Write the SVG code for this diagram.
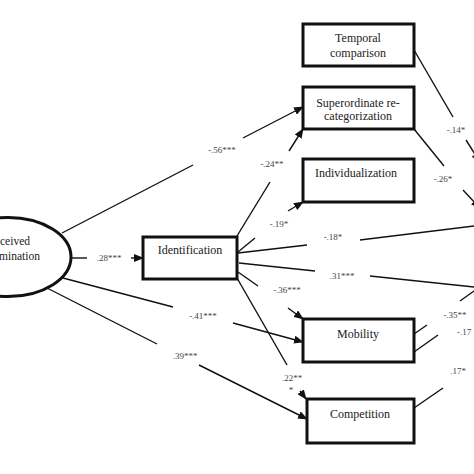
<svg xmlns="http://www.w3.org/2000/svg" width="474" height="474" viewBox="0 0 474 474">
<style>
.box{fill:#fff;stroke:#111;stroke-width:3}
.node{font-size:12px;fill:#222;text-anchor:middle}
.lbl{font-size:9px;fill:#444;text-anchor:middle}
.ln{stroke:#111;stroke-width:1.4;fill:none}
.arr{marker-end:url(#ah)}
</style>
<defs>
<marker id="ah" markerUnits="userSpaceOnUse" markerWidth="10" markerHeight="8" refX="9" refY="4" orient="auto">
<path d="M0,0 L10,4 L0,8 Z" fill="#111"/>
</marker>
</defs>
<rect width="474" height="474" fill="#fff"/>
<g id="connectors" font-family="'Liberation Serif', 'DejaVu Serif', serif">
<line class="ln" x1="62" y1="233" x2="193" y2="165"/><line class="ln arr" x1="243" y1="138" x2="303" y2="107"/>
<line class="ln" x1="71" y1="258" x2="87" y2="258"/><line class="ln arr" x1="131" y1="258" x2="143" y2="258"/>
<line class="ln" x1="63" y1="278" x2="173" y2="307"/><line class="ln arr" x1="233" y1="323" x2="303" y2="342"/>
<line class="ln" x1="47" y1="288" x2="157" y2="344"/><line class="ln arr" x1="199" y1="365" x2="307" y2="419"/>
<line class="ln" x1="237" y1="236" x2="270" y2="182"/><line class="ln arr" x1="289" y1="151" x2="303" y2="129"/>
<line class="ln" x1="238" y1="252" x2="255" y2="238"/><line class="ln arr" x1="288" y1="211" x2="303" y2="202"/>
<line class="ln" x1="238" y1="253" x2="307" y2="245"/><line class="ln" x1="360" y1="240" x2="474" y2="226"/>
<line class="ln" x1="239" y1="263" x2="315" y2="271"/><line class="ln" x1="370" y1="276" x2="474" y2="287"/>
<line class="ln" x1="238" y1="272" x2="258" y2="286"/><line class="ln arr" x1="288" y1="308" x2="303" y2="319"/>
<line class="ln" x1="237" y1="278" x2="287" y2="365"/><line class="ln arr" x1="300" y1="391" x2="306" y2="399"/>
<line class="ln" x1="414" y1="50" x2="453" y2="117"/><line class="ln arr" x1="466" y1="140" x2="480" y2="162"/>
<line class="ln" x1="414" y1="129" x2="444" y2="166"/><line class="ln arr" x1="463" y1="190" x2="480" y2="208"/>
<line class="ln" x1="414" y1="334" x2="427" y2="325"/><line class="ln" x1="460" y1="301" x2="474" y2="291"/>
<line class="ln" x1="414" y1="352" x2="438" y2="335"/>
<line class="ln" x1="414" y1="408" x2="443" y2="388"/>
<text class="lbl" x="222" y="153">-.56***</text>
<text class="lbl" x="109" y="261">.28***</text>
<text class="lbl" x="203" y="319">-.41***</text>
<text class="lbl" x="185" y="359">.39***</text>
<text class="lbl" x="272" y="167">-.24**</text>
<text class="lbl" x="279" y="227">-.19*</text>
<text class="lbl" x="333" y="240">-.18*</text>
<text class="lbl" x="342" y="279">.31***</text>
<text class="lbl" x="287" y="293">-.36***</text>
<text class="lbl" x="292" y="381">.22**</text>
<text class="lbl" x="291" y="393">*</text>
<text class="lbl" x="456" y="133">-.14*</text>
<text class="lbl" x="443" y="182">-.26*</text>
<text class="lbl" x="455" y="318">-.35**</text>
<text class="lbl" x="457" y="335" text-anchor="start" style="text-anchor:start">-.17</text>
<text class="lbl" x="458" y="374">.17*</text>
</g>
<g id="nodes" font-family="'Liberation Serif', 'DejaVu Serif', serif">
<g id="perceived-discrimination">
<ellipse cx="8" cy="257" rx="63" ry="39.5" fill="#fff" stroke="#111" stroke-width="3"/>
<text class="node" x="30" y="245" style="text-anchor:end;font-size:11.5px">ceived</text>
<text class="node" x="40" y="260" style="text-anchor:end;font-size:11.5px">mination</text>
</g>
<g id="identification">
<rect class="box" x="143" y="237" width="94" height="42"/>
<text class="node" x="190" y="254">Identification</text>
</g>
<g id="temporal-comparison">
<rect class="box" x="303" y="24" width="111" height="42"/>
<text class="node" x="358" y="42">Temporal</text>
<text class="node" x="358" y="57">comparison</text>
</g>
<g id="superordinate">
<rect class="box" x="303" y="87" width="111" height="42"/>
<text class="node" x="358" y="107">Superordinate re-</text>
<text class="node" x="358" y="120">categorization</text>
</g>
<g id="individualization">
<rect class="box" x="303" y="159" width="111" height="43"/>
<text class="node" x="356" y="177">Individualization</text>
</g>
<g id="mobility">
<rect class="box" x="303" y="319" width="111" height="43"/>
<text class="node" x="358" y="338">Mobility</text>
</g>
<g id="competition">
<rect class="box" x="307" y="399" width="107" height="44"/>
<text class="node" x="360" y="418">Competition</text>
</g>
</g>
</svg>
